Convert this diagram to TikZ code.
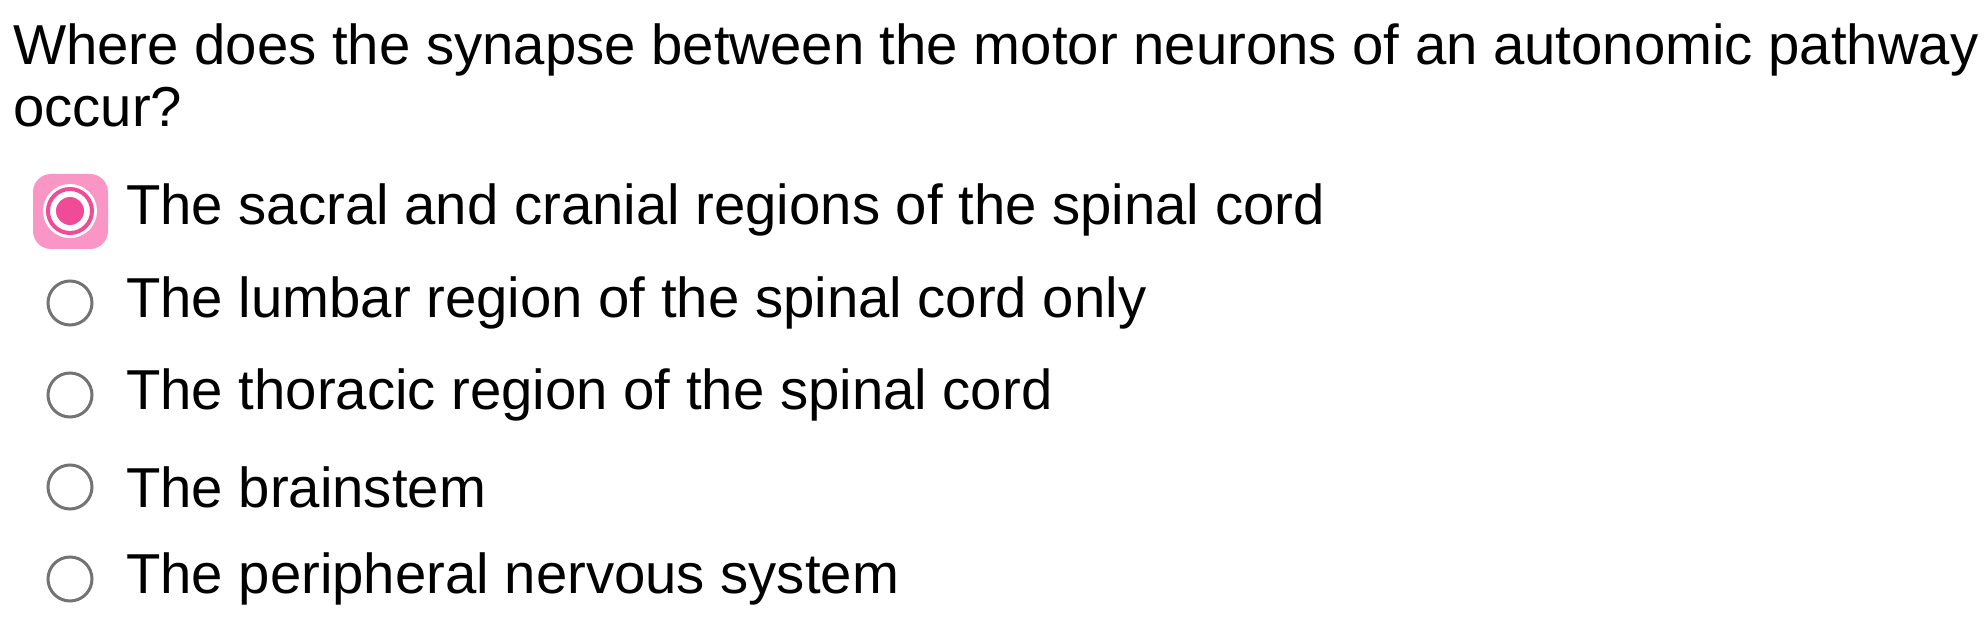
\documentclass[tikz,border=0pt]{standalone}
\usepackage{fontspec}
\setmainfont{Liberation Sans}
\definecolor{pinklight}{RGB}{250,150,198}
\definecolor{pinkdark}{RGB}{240,75,150}
\begin{document}
\begin{tikzpicture}[x=1pt,y=-1pt,
  txt/.style={anchor=base west,inner sep=0pt,font=\fontsize{56.3}{68}\selectfont},
  radio/.style={circle,draw=black!55,line width=3pt,minimum size=44pt,inner sep=0pt}]
\useasboundingbox[fill=white] (0,0) rectangle (1984,620);
\node[txt] (q1) at (13,65) {Where does the synapse between the motor neurons of an autonomic pathway};
\node[txt] (q2) at (13,127) {occur?};
\fill[rounded corners=18pt,fill=pinklight] (33,174) rectangle (108,249);
\fill[white] (70,211) circle (27);
\draw[draw=pinkdark,line width=4pt] (70,211) circle (22);
\fill[pinkdark] (70,211) circle (14);
\node[txt,anchor=west] (o1) at (126,210) {The sacral and cranial regions of the spinal cord};
\node[radio] (r2) at (70,303) {};
\node[txt,anchor=west] (o2) at (126,303) {The lumbar region of the spinal cord only};
\node[radio] (r3) at (70,395) {};
\node[txt,anchor=west] (o3) at (126,395) {The thoracic region of the spinal cord};
\node[radio] (r4) at (70,487) {};
\node[txt,anchor=west] (o4) at (126,487) {The brainstem};
\node[radio] (r5) at (70,579) {};
\node[txt,anchor=west] (o5) at (126,579) {The peripheral nervous system};
\end{tikzpicture}
\end{document}
